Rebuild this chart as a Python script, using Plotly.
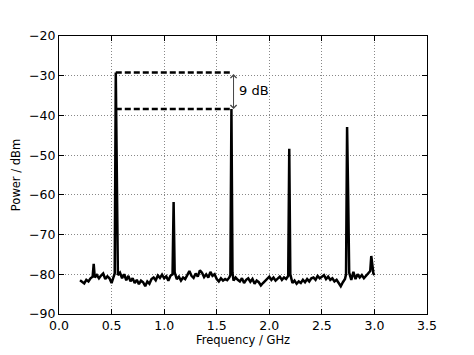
import plotly.graph_objects as go

freq = [0.20, 0.22, 0.24, 0.26, 0.28, 0.30, 0.32, 0.33, 0.34, 0.36, 0.38, 0.40, 0.42, 0.44, 0.46, 0.48,
        0.50, 0.52, 0.53, 0.54, 0.55, 0.56, 0.58, 0.60, 0.62, 0.64, 0.66, 0.68, 0.70, 0.72, 0.74, 0.76,
        0.78, 0.80, 0.82, 0.84, 0.86, 0.88, 0.90, 0.92, 0.94, 0.96, 0.98, 1.00, 1.02, 1.04, 1.06, 1.08,
        1.09, 1.10, 1.12, 1.14, 1.16, 1.18, 1.20, 1.22, 1.24, 1.26, 1.28, 1.30, 1.32, 1.34, 1.36, 1.38,
        1.40, 1.42, 1.44, 1.46, 1.48, 1.50, 1.52, 1.54, 1.56, 1.58, 1.60, 1.62, 1.63, 1.64, 1.65, 1.66,
        1.68, 1.70, 1.72, 1.74, 1.76, 1.78, 1.80, 1.82, 1.84, 1.86, 1.88, 1.90, 1.92, 1.94, 1.96, 1.98,
        2.00, 2.02, 2.04, 2.06, 2.08, 2.10, 2.12, 2.14, 2.16, 2.18, 2.19, 2.20, 2.22, 2.24, 2.26, 2.28,
        2.30, 2.32, 2.34, 2.36, 2.38, 2.40, 2.42, 2.44, 2.46, 2.48, 2.50, 2.52, 2.54, 2.56, 2.58, 2.60,
        2.62, 2.64, 2.66, 2.68, 2.70, 2.72, 2.73, 2.74, 2.75, 2.76, 2.78, 2.80, 2.82, 2.84, 2.86, 2.88,
        2.90, 2.92, 2.94, 2.96, 2.97, 2.99, 3.00]

power = [-81.5, -82.0, -82.3, -81.4, -81.8, -81.0, -80.6, -77.4, -80.8, -80.2, -81.0, -80.3, -79.8, -81.2, -80.5, -81.0,
         -82.2, -80.6, -79.8, -29.2, -62.0, -80.2, -79.6, -81.0, -80.0, -81.5, -80.4, -81.8, -81.0, -82.2, -81.4, -82.5,
         -81.6, -82.0, -83.0, -81.8, -82.4, -81.2, -80.8, -81.5, -80.3, -80.9, -80.1, -81.0, -80.5, -81.6, -80.4, -80.0,
         -61.8, -79.5, -81.2, -80.6, -81.6, -80.8, -81.2, -80.0, -79.2, -80.4, -80.9, -79.8, -80.6, -79.0, -79.6, -80.7,
         -80.0, -80.8, -79.4, -80.4, -80.0, -81.2, -81.8, -81.0, -81.6, -81.2, -81.5, -80.8, -80.2, -38.4, -79.6, -81.6,
         -80.8, -81.4, -81.8, -81.0, -82.2, -81.4, -81.0, -81.9, -81.2, -82.4, -81.6, -82.0, -82.8, -82.2, -81.6, -81.0,
         -80.6, -81.4, -80.8, -81.6, -81.0, -80.6, -81.4, -80.8, -81.2, -80.4, -48.4, -80.0, -82.2, -81.6, -82.4, -81.8,
         -82.2, -81.4, -82.0, -81.2, -81.8, -81.0, -80.8, -81.4, -80.4, -81.0, -80.6, -80.2, -81.2, -80.6, -81.4, -81.0,
         -81.8, -81.4, -82.2, -83.0, -82.0, -81.2, -80.0, -42.9, -60.0, -79.6, -81.4, -79.4, -81.2, -80.0, -80.8, -80.2,
         -81.0, -80.4, -80.0, -79.2, -75.4, -79.8, -80.2]

# reference levels for the 9 dB annotation
ref_x = [0.54, 1.645]
upper_level = -29.2
lower_level = -38.4
arrow_x = 1.66
label_text = "9 dB"

x_ticks = [0.0, 0.5, 1.0, 1.5, 2.0, 2.5, 3.0, 3.5]
x_tick_text = ["0.0", "0.5", "1.0", "1.5", "2.0", "2.5", "3.0", "3.5"]
y_ticks = [-90, -80, -70, -60, -50, -40, -30, -20]
y_tick_text = ["\u221290", "\u221280", "\u221270", "\u221260", "\u221250", "\u221240", "\u221230", "\u221220"]

font_family = "DejaVu Sans"

fig = go.Figure()
fig.add_trace(go.Scatter(x=ref_x, y=[upper_level, upper_level], mode="lines",
                         line=dict(color="black", width=2.5, dash="6px,3px"), showlegend=False))
fig.add_trace(go.Scatter(x=ref_x, y=[lower_level, lower_level], mode="lines",
                         line=dict(color="black", width=2.5, dash="6px,3px"), showlegend=False))
fig.add_trace(go.Scatter(x=freq, y=power, mode="lines",
                         line=dict(color="black", width=2.5), showlegend=False))

fig.add_annotation(x=arrow_x, y=lower_level, ax=arrow_x, ay=upper_level, xref="x", yref="y",
                   axref="x", ayref="y", showarrow=True, arrowside="end+start", arrowhead=4,
                   arrowsize=1.2, arrowwidth=1, arrowcolor="#444", text="")
fig.add_annotation(x=arrow_x + 0.03, y=(upper_level + lower_level) / 2, xref="x", yref="y",
                   text=label_text, showarrow=False, xanchor="left", yanchor="middle",
                   font=dict(family=font_family, size=13, color="black"))

axis_common = dict(showline=True, linecolor="black", linewidth=1, mirror="ticks",
                   ticks="inside", ticklen=5, tickcolor="black", tickwidth=1,
                   showgrid=True, gridcolor="#888", griddash="1px,2px", gridwidth=1,
                   zeroline=False, tickfont=dict(family=font_family, size=12.5, color="black"))

fig.update_xaxes(range=[0, 3.5], tickvals=x_ticks, ticktext=x_tick_text,
                 title=dict(text="Frequency / GHz", standoff=2,
                            font=dict(family=font_family, size=11.5, color="black")),
                 **axis_common)
fig.update_yaxes(range=[-90, -20], tickvals=y_ticks, ticktext=y_tick_text,
                 title=dict(text="Power / dBm", standoff=6,
                            font=dict(family=font_family, size=11.5, color="black")),
                 **axis_common)

fig.update_layout(width=474, height=355, margin=dict(l=59, r=47, t=36, b=35),
                  paper_bgcolor="white", plot_bgcolor="white",
                  font=dict(family=font_family, color="black"))

fig.write_html("out.html", config={"displayModeBar": False},
               post_script="document.body.style.margin='0';")
